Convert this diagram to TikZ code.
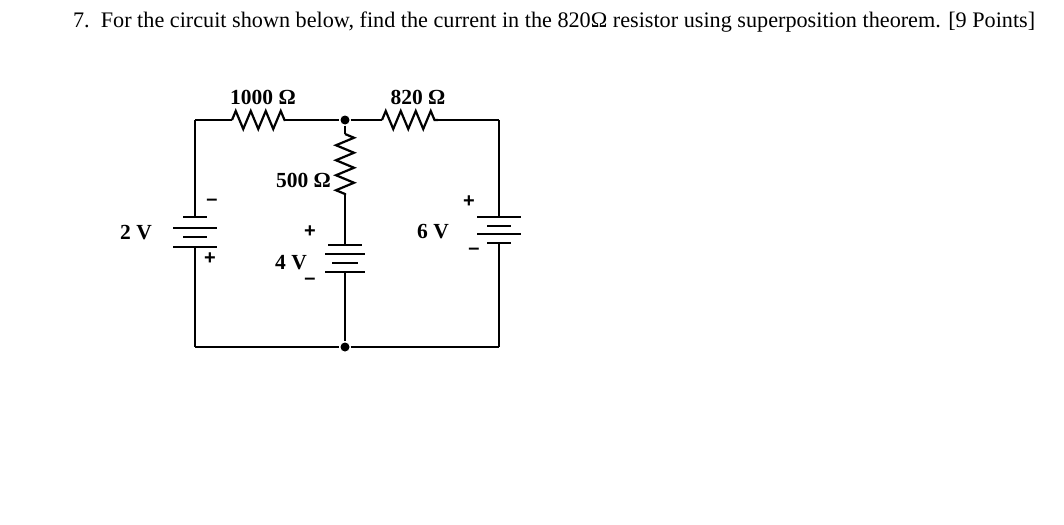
\documentclass[tikz,border=0pt]{standalone}
\usepackage{fontspec}
\setmainfont{Liberation Serif}
\newfontfamily\sgnfont{Liberation Sans}
\usetikzlibrary{decorations.pathmorphing}
\begin{document}
\begin{tikzpicture}[x=1pt,y=-1pt,line width=2.2pt,
  lab/.style={font=\fontsize{21.5}{21.5}\selectfont\bfseries,inner sep=0pt},
  sgn/.style={font=\sgnfont\fontsize{20}{20}\selectfont\bfseries,inner sep=0pt},
  res/.style={decorate,decoration={zigzag,segment length=15pt,amplitude=9pt}},
  dot/.style={circle,fill,inner sep=0pt,minimum size=9pt}]
\useasboundingbox (0,0) rectangle (1064,524);
\node[anchor=west,inner sep=0pt,font=\fontsize{22.2}{22.2}\selectfont] (title) at (72,22) {7.\ \ For the circuit shown below, find the current in the 820Ω resistor using superposition theorem. [9 Points]};
% corners
\coordinate (tl) at (195,120); \coordinate (tr) at (499,120);
\coordinate (bl) at (195,347); \coordinate (br) at (499,347);
\node[dot] (j1) at (345,120) {}; \node[dot] (j2) at (345,347) {};
\coordinate (r1a) at (232,120); \coordinate (r1b) at (285,120);
\coordinate (r2a) at (382,120); \coordinate (r2b) at (438,120);
\coordinate (r3a) at (345,134); \coordinate (r3b) at (345,195);
% wires
\draw (tl) -- (r1a); \draw[res] (r1a) -- (r1b); \draw (r1b) -- (j1) -- (r2a);
\draw[res] (r2a) -- (r2b); \draw (r2b) -- (tr);
\draw (j1) -- (r3a); \draw[res] (r3a) -- (r3b);
\draw (bl) -- (j2) -- (br);
% 2V battery
\draw (tl) -- (195,217); \draw (195,247) -- (bl);
\draw (183,217) -- (207,217); \draw (173,228) -- (217,228); \draw (183,237) -- (207,237); \draw (173,247) -- (217,247);
% 4V battery
\draw (r3b) -- (345,245); \draw (345,272) -- (j2);
\draw (328,245) -- (362,245); \draw (325,254) -- (365,254); \draw (332,263) -- (358,263); \draw (325,272) -- (365,272);
% 6V battery
\draw (tr) -- (499,217); \draw (499,243) -- (br);
\draw (477,217) -- (521,217); \draw (487,226) -- (511,226); \draw (477,234) -- (521,234); \draw (487,243) -- (511,243);
% labels
\node[lab] (l1) at (263,97) {1000 Ω};
\node[lab] (l2) at (418,97) {820 Ω};
\node[lab,anchor=east] (l3) at (332,180) {500 Ω};
\node[lab] (l4) at (136,233) {2 V};
\node[lab] (l5) at (291,263) {4 V};
\node[lab] (l6) at (433,232) {6 V};
\node[sgn] (s1) at (212,202) {–}; \node[sgn] (s2) at (210,259) {+};
\node[sgn] (s3) at (310,232) {+}; \node[sgn] (s4) at (310,281) {–};
\node[sgn] (s5) at (469,202) {+}; \node[sgn] (s6) at (474,251) {–};
\end{tikzpicture}
\end{document}
